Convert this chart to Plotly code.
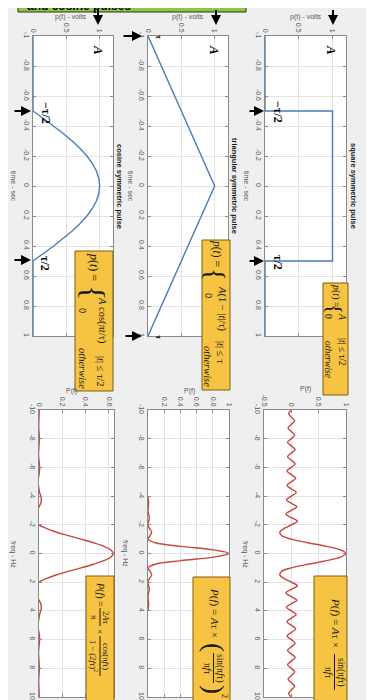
import plotly.graph_objects as go

W, H = 374, 700
def X(px): return px / W
def Y(py): return 1 - py / H

# ---------------- data ----------------
t_ticks = [-1, -0.8, -0.6, -0.4, -0.2, 0, 0.2, 0.4, 0.6, 0.8, 1]
t_ticklabels = ["-1", "-0.8", "-0.6", "-0.4", "-0.2", "0", "0.2", "0.4", "0.6", "0.8", "1"]
p_ticks = [0, 0.5, 1]
p_ticklabels = ["0", "0.5", "1"]
f_ticks = [-10, -8, -6, -4, -2, 0, 2, 4, 6, 8, 10]
f_ticklabels = ["-10", "-8", "-6", "-4", "-2", "0", "2", "4", "6", "8", "10"]

t_cos = [-1, -0.5, -0.45, -0.4, -0.35, -0.3, -0.25, -0.2, -0.15, -0.1, -0.05, 0,
         0.05, 0.1, 0.15, 0.2, 0.25, 0.3, 0.35, 0.4, 0.45, 0.5, 1]
p_cos = [0, 0, 0.156, 0.309, 0.454, 0.588, 0.707, 0.809, 0.891, 0.951, 0.988, 1.0,
         0.988, 0.951, 0.891, 0.809, 0.707, 0.588, 0.454, 0.309, 0.156, 0, 0]

t_tri = [-1, 0, 1]
p_tri = [0, 1, 0]

t_sq = [-1, -0.5, -0.5, 0.5, 0.5, 1]
p_sq = [0, 0, 1, 1, 0, 0]

f_full = [i / 4 for i in range(-40, 41)]   # -10 .. 10 Hz sample grid
f_tri = [i / 4 for i in range(-16, 17)]    # -4 .. 4 Hz sample grid

P_sq = [0.00, -0.05, 0.00, 0.06, 0.00, -0.06, 0.00, 0.06, 0.00, -0.07,
        0.00, 0.07, 0.00, -0.07, 0.00, 0.07, 0.00, -0.08, 0.00, 0.08,
        0.00, -0.08, 0.00, 0.09, 0.00, -0.09, 0.00, 0.10, 0.00, -0.10,
        0.00, 0.11, 0.00, -0.13, -0.21, -0.18, 0.00, 0.30, 0.64, 0.90,
        1.00,
        0.90, 0.64, 0.30, 0.00, -0.18, -0.21, -0.13, 0.00, 0.11, 0.00,
        -0.10, 0.00, 0.10, 0.00, -0.09, 0.00, 0.09, 0.00, -0.08, 0.00,
        0.08, 0.00, -0.08, 0.00, 0.07, 0.00, -0.07, 0.00, 0.07, 0.00,
        -0.07, 0.00, 0.06, 0.00, -0.06, 0.00, 0.06, 0.00, -0.05, 0.00]

P_tri = [0.000, 0.004, 0.008, 0.004, 0.000, 0.007, 0.016, 0.008, 0.000,
         0.017, 0.045, 0.026, 0.000, 0.090, 0.405, 0.811,
         1.000,
         0.811, 0.405, 0.090, 0.000, 0.026, 0.045, 0.017, 0.000,
         0.008, 0.016, 0.007, 0.000, 0.004, 0.008, 0.004, 0.000]

P_cos = [0.002, 0.001, 0.000, -0.001, -0.002, -0.002, 0.000, 0.002, 0.003, 0.002,
         0.000, -0.002, -0.004, -0.003, 0.000, 0.003, 0.005, 0.004, 0.000, -0.006,
         -0.008, -0.005, 0.000, 0.005, 0.015, 0.020, 0.015, 0.000, -0.015, -0.025,
         -0.030, -0.020, 0.000, 0.062, 0.145, 0.250, 0.360, 0.466, 0.557, 0.616,
         0.637,
         0.616, 0.557, 0.466, 0.360, 0.250, 0.145, 0.062, 0.000, -0.020, -0.030,
         -0.025, -0.015, 0.000, 0.015, 0.020, 0.015, 0.005, 0.000, -0.005, -0.008,
         -0.006, 0.000, 0.004, 0.005, 0.003, 0.000, -0.003, -0.004, -0.002, 0.000,
         0.002, 0.003, 0.002, 0.000, -0.002, -0.002, -0.001, 0.000, 0.001, 0.002]

# ---------------- styling ----------------
BLUE = "#4a7db8"
RED = "#c8463c"
GRID = "#e3e3e3"
FRAME = "#8a8a8a"
TICKC = "#5a5a5a"
SANS = "Liberation Sans"
SERIF = "Liberation Serif"
BOXFILL = "#f6c343"
BOXLINE = "#7d5f12"

fig = go.Figure()

FT, FB = 402, 689
panels = [
    (1, 25, 105, 28, 328, [0, 1.2], [1, -1], p_ticks, p_ticklabels, t_ticks, t_ticklabels, p_cos, t_cos, BLUE, "linear"),
    (2, 140, 220, 28, 328, [0, 1.2], [1, -1], p_ticks, p_ticklabels, t_ticks, t_ticklabels, p_tri, t_tri, BLUE, "linear"),
    (3, 257, 338, 28, 328, [0, 1.2], [1, -1], p_ticks, p_ticklabels, t_ticks, t_ticklabels, p_sq, t_sq, BLUE, "linear"),
    (4, 31, 106, FT, FB, [0, 0.643], [10, -10], [0, 0.2, 0.4, 0.6], ["0", "0.2", "0.4", "0.6"],
     f_ticks, f_ticklabels, P_cos, f_full, RED, "spline"),
    (5, 140, 221, FT, FB, [0, 1], [10, -10], [0.2, 0.4, 0.6, 0.8, 1], ["0.2", "0.4", "0.6", "0.8", "1"],
     f_ticks, f_ticklabels, P_tri, f_tri, RED, "spline"),
    (6, 256, 338, FT, FB, [-0.5, 1], [10, -10], [-0.5, 0, 0.5, 1], ["-0.5", "0", "0.5", "1"],
     f_ticks, f_ticklabels, P_sq, f_full, RED, "spline"),
]

layout_axes = {}
for (n, l, r, tp, bt, xr, yr, xtv, xtt, ytv, ytt, xs, ys, col, shp) in panels:
    sfx = "" if n == 1 else str(n)
    fig.add_trace(go.Scatter(x=xs, y=ys, xaxis="x" + sfx, yaxis="y" + sfx, mode="lines",
                             line=dict(color=col, width=1.4, shape=shp), hoverinfo="skip",
                             showlegend=False))
    layout_axes["xaxis" + sfx] = dict(
        domain=[X(l), X(r)], range=xr, anchor="y" + sfx, side="top",
        tickmode="array", tickvals=xtv, ticktext=xtt, tickangle=90,
        showgrid=True, gridcolor=GRID, gridwidth=1, zeroline=False,
        showline=True, linecolor=FRAME, linewidth=1, mirror="ticks",
        ticks="inside", ticklen=3, tickcolor=FRAME,
        tickfont=dict(family=SANS, size=7, color=TICKC), fixedrange=True)
    layout_axes["yaxis" + sfx] = dict(
        domain=[Y(bt), Y(tp)], range=yr, anchor="x" + sfx,
        tickmode="array", tickvals=ytv, ticktext=ytt, tickangle=90,
        showgrid=True, gridcolor=GRID, gridwidth=1, zeroline=False,
        showline=True, linecolor=FRAME, linewidth=1, mirror="ticks",
        ticks="inside", ticklen=3, tickcolor=FRAME,
        tickfont=dict(family=SANS, size=7, color=TICKC), fixedrange=True)

ann = []
shapes = []

def text(px, py, s, size=8, color=TICKC, family=SANS, angle=90, bold=False):
    if bold:
        s = "<b>" + s + "</b>"
    ann.append(dict(x=X(px), y=Y(py), xref="paper", yref="paper", text=s, showarrow=False,
                    textangle=angle, xanchor="center", yanchor="middle",
                    font=dict(family=family, size=size, color=color)))

def arrow(tx, ty, ax, ay):
    ann.append(dict(x=X(tx), y=Y(ty), xref="paper", yref="paper", text=" ", showarrow=True,
                    ax=ax, ay=ay, arrowhead=2, arrowsize=1, arrowwidth=2, arrowcolor="black",
                    font=dict(size=1)))

def rect(x0, y0, x1, y1, fill, line=None, lw=1):
    shapes.append(dict(type="rect", xref="paper", yref="paper", x0=X(x0), x1=X(x1), y0=Y(y1), y1=Y(y0),
                       fillcolor=fill, line=dict(color=line or fill, width=lw if line else 0), layer="above"))

def vline(x, y0, y1, color="black", w=1):
    shapes.append(dict(type="line", xref="paper", yref="paper", x0=X(x), x1=X(x), y0=Y(y0), y1=Y(y1),
                       line=dict(color=color, width=w), layer="above"))

# axis labels
for px in (63, 180, 298):
    text(px, 9, "p(t) - volts", size=7, angle=0)
for px, py in ((63, 383), (181, 383), (297, 381)):
    text(px, py, "P(f)", size=7, angle=0)
for px in (5, 122, 238):
    text(px, 178, "time - sec", size=7)
for px in (5, 117, 237):
    text(px, 546, "freq - Hz", size=7)

# titles
text(111, 178, "cosine symmetric pulse", size=7.5, color="#1a1a1a", bold=True)
text(226, 178, "triangular symmetric pulse", size=7.5, color="#1a1a1a", bold=True)
text(345, 178, "square symmetric pulse", size=7.5, color="#1a1a1a", bold=True)

# markers on the pulses
for px in (91, 207, 324):
    text(px, 42, "<b><i>A</i></b>", size=13, color="black", family=SERIF)
text(38, 105, "<b>−τ/2</b>", size=12, color="black", family=SERIF)
text(37, 255, "<b>τ/2</b>", size=12, color="black", family=SERIF)
text(270, 104, "<b>−τ/2</b>", size=12, color="black", family=SERIF)
text(270, 254, "<b>τ/2</b>", size=12, color="black", family=SERIF)
text(151, 29, "<b>τ</b>", size=9, color="black", family=SERIF)
text(151, 329, "<b>τ</b>", size=9, color="black", family=SERIF)

# arrows
for px in (90, 208, 325):
    arrow(px, 17, 0, -17)
arrow(23, 103, -18, 0)
arrow(23, 252, -18, 0)
arrow(134, 28, -20, 0)
arrow(134, 328, -18, 0)
arrow(256, 103, -16, 0)
arrow(256, 253, -16, 0)

# green banner (cut off at top)
rect(10, -12, 238, 4, "#8fc64a", "#2a3a10", 1)
text(71, -2, "<b>and cosine pulses</b>", size=12, color="black", angle=0)

# formula boxes
rect(67, 243, 105, 383, BOXFILL, BOXLINE)
rect(194, 232, 222, 382, BOXFILL, BOXLINE)
rect(315, 275, 340, 387, BOXFILL, BOXLINE)
rect(78, 568, 106, 705, BOXFILL, BOXLINE)
rect(185, 569, 222, 705, BOXFILL, BOXLINE)
rect(306, 568, 339, 705, BOXFILL, BOXLINE)

F = dict(color="#1a1a1a", family=SERIF)
# cosine p(t)
text(86, 259, "<i>p</i>(<i>t</i>) =", size=12, **F)
text(85, 284, "{", size=32, **F)
text(94, 312, "<i>A</i> cos(π<i>t</i>/τ)", size=10.5, **F)
text(75, 302, "0", size=10.5, **F)
text(93, 363, "|<i>t</i>| ≤ τ/2", size=10.5, **F)
text(74, 360, "<i>otherwise</i>", size=10.5, **F)
# triangular p(t)
text(208, 245, "<i>p</i>(<i>t</i>) =", size=11.5, **F)
text(207, 266, "{", size=27, **F)
text(214, 301, "<i>A</i>(1 − |<i>t</i>|/τ)", size=10.5, **F)
text(200, 287, "0", size=10.5, **F)
text(213, 344, "|<i>t</i>| ≤ τ", size=10.5, **F)
text(200, 358, "<i>otherwise</i>", size=10.5, **F)
# square p(t)
text(328, 288, "<i>p</i>(<i>t</i>) =", size=10, **F)
text(327, 301, "{", size=21, **F)
text(334, 308, "<i>A</i>", size=9.5, **F)
text(334, 344, "|<i>t</i>| ≤ τ/2", size=9.5, **F)
text(320, 308, "0", size=9.5, **F)
text(320, 351, "<i>otherwise</i>", size=9.5, **F)

# cosine P(f)
text(92, 586, "<i>P</i>(<i>f</i>) =", size=10, **F)
text(98, 609, "2<i>A</i>τ", size=8.5, **F)
text(86, 609, "π", size=8.5, **F)
vline(92, 600, 618, "#1a1a1a", 1)
text(92, 623, "×", size=9, **F)
text(98, 648, "cos(π<i>f</i>τ)", size=8.5, **F)
text(86, 648, "1 − (2<i>f</i>τ)<sup>2</sup>", size=8.5, **F)
vline(92, 628, 668, "#1a1a1a", 1)
# triangular P(f)
text(207, 605, "<i>P</i>(<i>f</i>) = <i>A</i>τ ×", size=11, **F)
text(206, 639, "(", size=27, **F)
text(212, 660, "sin(π<i>f</i>τ)", size=9.5, **F)
text(199, 660, "π<i>f</i>τ", size=9.5, **F)
vline(205.5, 645, 675, "#1a1a1a", 1)
text(206, 681, ")", size=27, **F)
text(217, 688, "2", size=8, **F)
# square P(f)
text(328, 615, "<i>P</i>(<i>f</i>) = <i>A</i>τ ×", size=11, **F)
text(333, 664, "sin(π<i>f</i>τ)", size=9.5, **F)
text(320, 664, "π<i>f</i>τ", size=9.5, **F)
vline(326.5, 646, 682, "#1a1a1a", 1)

# right white strip and small dots
rect(368, -5, 380, 710, "white")
rect(371, 492, 375, 496, "black")
rect(371, 546, 375, 550, "black")

fig.update_layout(
    width=W, height=H, margin=dict(l=0, r=0, t=0, b=0, autoexpand=False),
    paper_bgcolor="#efefef", plot_bgcolor="white",
    showlegend=False, annotations=ann, shapes=shapes, **layout_axes)

fig.write_html("out.html")
